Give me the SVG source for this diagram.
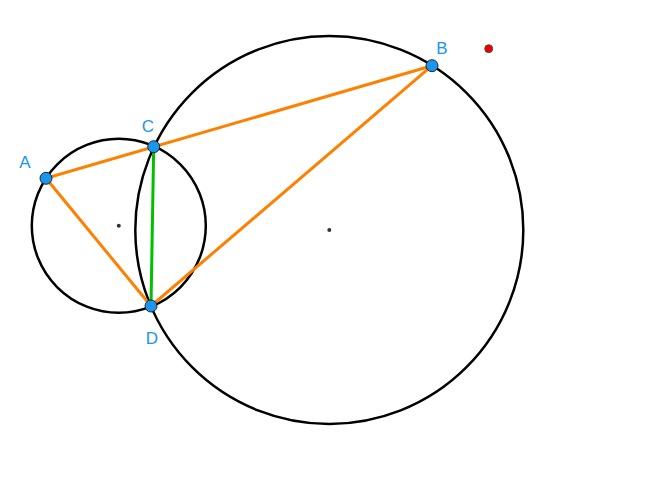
<svg xmlns="http://www.w3.org/2000/svg" width="660" height="500" viewBox="0 0 660 500">
<style>
.circ{fill:none;stroke:#000;stroke-width:2.5}
.seg{stroke:#ff8000;stroke-width:3;stroke-linecap:round}
.pt{fill:#1a96ee;stroke:#1a1a1a;stroke-width:0.9}
.lbl{font-family:"Liberation Sans",Arial,sans-serif;font-size:17px;fill:#1a96ee;text-anchor:middle}
.ctr{fill:#333}
</style>
<rect width="660" height="500" fill="#fff"/>
<g id="circles">
<circle class="circ" cx="118.8" cy="225.8" r="87"/>
<circle class="circ" cx="329.3" cy="230" r="194"/>
<circle class="ctr" cx="118.8" cy="225.8" r="2"/>
<circle class="ctr" cx="329.3" cy="230" r="2"/>
</g>
<g id="connectors">
<line class="seg" x1="46" y1="178.3" x2="432" y2="65.7"/>
<line class="seg" x1="46" y1="178.3" x2="151" y2="306"/>
<line class="seg" x1="151" y1="306" x2="432" y2="65.7"/>
<line x1="153.7" y1="146.7" x2="151" y2="306" stroke="#00c000" stroke-width="3"/>
</g>
<g id="A"><circle class="pt" cx="46" cy="178.3" r="6"/><text class="lbl" x="25" y="168">A</text></g>
<g id="B"><circle class="pt" cx="432" cy="65.7" r="6"/><text class="lbl" x="442" y="54">B</text></g>
<g id="C"><circle class="pt" cx="153.7" cy="146.7" r="6"/><text class="lbl" x="148" y="132">C</text></g>
<g id="D"><circle class="pt" cx="151" cy="306" r="6"/><text class="lbl" x="152" y="344">D</text></g>
<g id="P"><circle cx="488.7" cy="48.7" r="4" fill="#ee0000" stroke="#444" stroke-width="0.8"/></g>
</svg>
